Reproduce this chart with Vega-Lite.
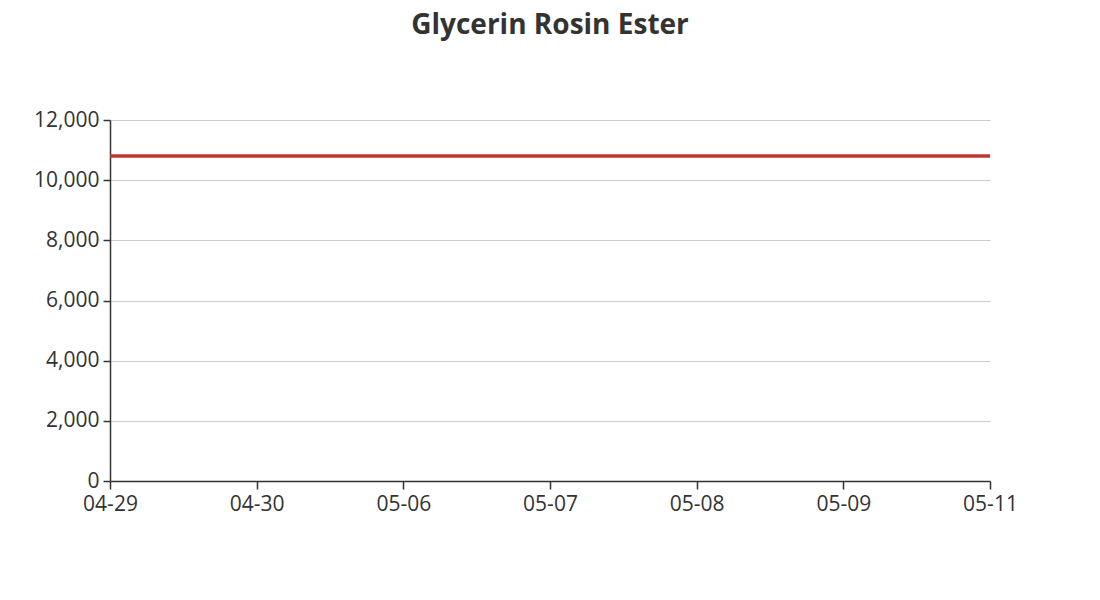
{
  "$schema": "https://vega.github.io/schema/vega-lite/v6.json",
  "autosize": {"type": "none"},
  "padding": {"left": 110, "top": 120, "right": 110, "bottom": 119},
  "width": 880,
  "height": 361,
  "title": {
    "text": "Glycerin Rosin Ester",
    "font": "Open Sans",
    "fontSize": 28,
    "fontWeight": "bold",
    "color": "#333333",
    "anchor": "middle",
    "offset": 69
  },
  "data": {
    "values": [
      {"date": "04-29", "price": 10800},
      {"date": "04-30", "price": 10800},
      {"date": "05-06", "price": 10800},
      {"date": "05-07", "price": 10800},
      {"date": "05-08", "price": 10800},
      {"date": "05-09", "price": 10800},
      {"date": "05-11", "price": 10800}
    ]
  },
  "mark": {"type": "line", "color": "#c23531", "strokeWidth": 3.5},
  "encoding": {
    "x": {
      "field": "date",
      "type": "ordinal",
      "sort": null,
      "scale": {"type": "point", "padding": 0},
      "axis": {
        "title": null,
        "labelAngle": 0,
        "grid": false,
        "domainColor": "#333333",
        "domainWidth": 1.5,
        "tickColor": "#333333",
        "tickWidth": 1.5,
        "tickSize": 8,
        "labelFont": "Open Sans",
        "labelFontSize": 21,
        "labelColor": "#333333",
        "labelPadding": 4
      }
    },
    "y": {
      "field": "price",
      "type": "quantitative",
      "scale": {"domain": [0, 12000]},
      "axis": {
        "title": null,
        "values": [0, 2000, 4000, 6000, 8000, 10000, 12000],
        "format": ",.0f",
        "grid": true,
        "gridColor": "#cccccc",
        "gridWidth": 1.2,
        "domainColor": "#333333",
        "domainWidth": 1.5,
        "tickColor": "#333333",
        "tickWidth": 1.5,
        "tickSize": 7,
        "labelFont": "Open Sans",
        "labelFontSize": 21,
        "labelColor": "#333333",
        "labelPadding": 4
      }
    }
  },
  "config": {"view": {"stroke": null}}
}
